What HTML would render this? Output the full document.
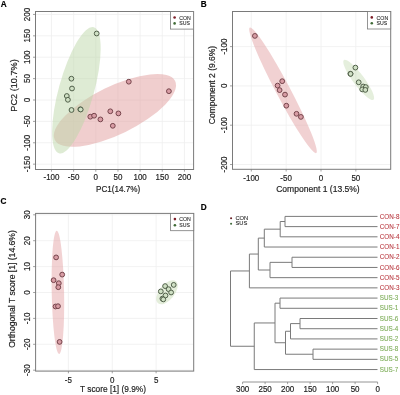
<!DOCTYPE html>
<html><head><meta charset="utf-8"><style>
html,body{margin:0;padding:0;background:#fff;width:400px;height:395px;overflow:hidden}
svg{display:block;will-change:transform;font-family:"Liberation Sans", sans-serif}
</style></head><body>
<svg width="400" height="395" viewBox="0 0 400 395">
<text x="0.8" y="6.7" font-weight="bold" font-size="8.2" fill="#000" stroke="#000" stroke-width="0.18">A</text>
<line x1="51.48" y1="11.5" x2="51.48" y2="169.5" stroke="#efefef" stroke-width="0.8"/>
<line x1="73.64" y1="11.5" x2="73.64" y2="169.5" stroke="#efefef" stroke-width="0.8"/>
<line x1="95.8" y1="11.5" x2="95.8" y2="169.5" stroke="#efefef" stroke-width="0.8"/>
<line x1="117.96" y1="11.5" x2="117.96" y2="169.5" stroke="#efefef" stroke-width="0.8"/>
<line x1="140.12" y1="11.5" x2="140.12" y2="169.5" stroke="#efefef" stroke-width="0.8"/>
<line x1="162.28" y1="11.5" x2="162.28" y2="169.5" stroke="#efefef" stroke-width="0.8"/>
<line x1="184.44" y1="11.5" x2="184.44" y2="169.5" stroke="#efefef" stroke-width="0.8"/>
<line x1="35.5" y1="14.46" x2="193.6" y2="14.46" stroke="#efefef" stroke-width="0.8"/>
<line x1="35.5" y1="35.84" x2="193.6" y2="35.84" stroke="#efefef" stroke-width="0.8"/>
<line x1="35.5" y1="57.23" x2="193.6" y2="57.23" stroke="#efefef" stroke-width="0.8"/>
<line x1="35.5" y1="78.61" x2="193.6" y2="78.61" stroke="#efefef" stroke-width="0.8"/>
<line x1="35.5" y1="100.0" x2="193.6" y2="100.0" stroke="#efefef" stroke-width="0.8"/>
<line x1="35.5" y1="121.39" x2="193.6" y2="121.39" stroke="#efefef" stroke-width="0.8"/>
<line x1="35.5" y1="142.77" x2="193.6" y2="142.77" stroke="#efefef" stroke-width="0.8"/>
<line x1="35.5" y1="164.16" x2="193.6" y2="164.16" stroke="#efefef" stroke-width="0.8"/>
<ellipse cx="114.9" cy="110.4" rx="67" ry="24" transform="rotate(-26 114.9 110.4)" fill="rgb(226,158,159)" fill-opacity="0.51"/>
<ellipse cx="76.4" cy="90.2" rx="65.4" ry="17.6" transform="rotate(-74.6 76.4 90.2)" fill="rgb(190,215,170)" fill-opacity="0.5"/>
<circle cx="90.3" cy="116.7" r="2.4" fill="#d89ca4" stroke="#74434a" stroke-width="1"/>
<circle cx="94.1" cy="115.7" r="2.4" fill="#d89ca4" stroke="#74434a" stroke-width="1"/>
<circle cx="100.4" cy="119.4" r="2.4" fill="#d89ca4" stroke="#74434a" stroke-width="1"/>
<circle cx="110.3" cy="111.3" r="2.4" fill="#d89ca4" stroke="#74434a" stroke-width="1"/>
<circle cx="118.4" cy="113.4" r="2.4" fill="#d89ca4" stroke="#74434a" stroke-width="1"/>
<circle cx="112.8" cy="125.8" r="2.4" fill="#d89ca4" stroke="#74434a" stroke-width="1"/>
<circle cx="128.8" cy="81.7" r="2.4" fill="#d89ca4" stroke="#74434a" stroke-width="1"/>
<circle cx="168.9" cy="91.2" r="2.4" fill="#d89ca4" stroke="#74434a" stroke-width="1"/>
<circle cx="96.7" cy="33.5" r="2.4" fill="#cfe0c4" stroke="#4f5e48" stroke-width="1"/>
<circle cx="71.4" cy="78.7" r="2.4" fill="#cfe0c4" stroke="#4f5e48" stroke-width="1"/>
<circle cx="72" cy="88.5" r="2.4" fill="#cfe0c4" stroke="#4f5e48" stroke-width="1"/>
<circle cx="66.8" cy="96" r="2.4" fill="#cfe0c4" stroke="#4f5e48" stroke-width="1"/>
<circle cx="67.9" cy="99.8" r="2.4" fill="#cfe0c4" stroke="#4f5e48" stroke-width="1"/>
<circle cx="71.5" cy="110" r="2.4" fill="#cfe0c4" stroke="#4f5e48" stroke-width="1"/>
<circle cx="80.3" cy="109.3" r="2.4" fill="#cfe0c4" stroke="#4f5e48" stroke-width="1"/>
<circle cx="80.7" cy="109.5" r="2.4" fill="#cfe0c4" stroke="#4f5e48" stroke-width="1"/>
<rect x="35.5" y="11.5" width="158.1" height="158.0" fill="none" stroke="#7a7a7a" stroke-width="1"/>
<line x1="51.48" y1="169.5" x2="51.48" y2="171.7" stroke="#7a7a7a" stroke-width="0.7"/>
<text transform="translate(51.48 179.7) scale(0.9 1)" font-size="8.9" text-anchor="middle" fill="#222" stroke="#222" stroke-width="0.18">-100</text>
<line x1="73.64" y1="169.5" x2="73.64" y2="171.7" stroke="#7a7a7a" stroke-width="0.7"/>
<text transform="translate(73.64 179.7) scale(0.9 1)" font-size="8.9" text-anchor="middle" fill="#222" stroke="#222" stroke-width="0.18">-50</text>
<line x1="95.8" y1="169.5" x2="95.8" y2="171.7" stroke="#7a7a7a" stroke-width="0.7"/>
<text transform="translate(95.8 179.7) scale(0.9 1)" font-size="8.9" text-anchor="middle" fill="#222" stroke="#222" stroke-width="0.18">0</text>
<line x1="117.96" y1="169.5" x2="117.96" y2="171.7" stroke="#7a7a7a" stroke-width="0.7"/>
<text transform="translate(117.96 179.7) scale(0.9 1)" font-size="8.9" text-anchor="middle" fill="#222" stroke="#222" stroke-width="0.18">50</text>
<line x1="140.12" y1="169.5" x2="140.12" y2="171.7" stroke="#7a7a7a" stroke-width="0.7"/>
<text transform="translate(140.12 179.7) scale(0.9 1)" font-size="8.9" text-anchor="middle" fill="#222" stroke="#222" stroke-width="0.18">100</text>
<line x1="162.28" y1="169.5" x2="162.28" y2="171.7" stroke="#7a7a7a" stroke-width="0.7"/>
<text transform="translate(162.28 179.7) scale(0.9 1)" font-size="8.9" text-anchor="middle" fill="#222" stroke="#222" stroke-width="0.18">150</text>
<line x1="184.44" y1="169.5" x2="184.44" y2="171.7" stroke="#7a7a7a" stroke-width="0.7"/>
<text transform="translate(184.44 179.7) scale(0.9 1)" font-size="8.9" text-anchor="middle" fill="#222" stroke="#222" stroke-width="0.18">200</text>
<line x1="33.0" y1="14.46" x2="35.5" y2="14.46" stroke="#7a7a7a" stroke-width="0.7"/>
<text transform="translate(30 14.46) rotate(-90) scale(0.9 1)" font-size="8.9" text-anchor="middle" fill="#222" stroke="#222" stroke-width="0.18">200</text>
<line x1="33.0" y1="35.84" x2="35.5" y2="35.84" stroke="#7a7a7a" stroke-width="0.7"/>
<text transform="translate(30 35.84) rotate(-90) scale(0.9 1)" font-size="8.9" text-anchor="middle" fill="#222" stroke="#222" stroke-width="0.18">150</text>
<line x1="33.0" y1="57.23" x2="35.5" y2="57.23" stroke="#7a7a7a" stroke-width="0.7"/>
<text transform="translate(30 57.23) rotate(-90) scale(0.9 1)" font-size="8.9" text-anchor="middle" fill="#222" stroke="#222" stroke-width="0.18">100</text>
<line x1="33.0" y1="78.61" x2="35.5" y2="78.61" stroke="#7a7a7a" stroke-width="0.7"/>
<text transform="translate(30 78.61) rotate(-90) scale(0.9 1)" font-size="8.9" text-anchor="middle" fill="#222" stroke="#222" stroke-width="0.18">50</text>
<line x1="33.0" y1="100.0" x2="35.5" y2="100.0" stroke="#7a7a7a" stroke-width="0.7"/>
<text transform="translate(30 100.0) rotate(-90) scale(0.9 1)" font-size="8.9" text-anchor="middle" fill="#222" stroke="#222" stroke-width="0.18">0</text>
<line x1="33.0" y1="121.39" x2="35.5" y2="121.39" stroke="#7a7a7a" stroke-width="0.7"/>
<text transform="translate(30 121.39) rotate(-90) scale(0.9 1)" font-size="8.9" text-anchor="middle" fill="#222" stroke="#222" stroke-width="0.18">-50</text>
<line x1="33.0" y1="142.77" x2="35.5" y2="142.77" stroke="#7a7a7a" stroke-width="0.7"/>
<text transform="translate(30 142.77) rotate(-90) scale(0.9 1)" font-size="8.9" text-anchor="middle" fill="#222" stroke="#222" stroke-width="0.18">-100</text>
<line x1="33.0" y1="164.16" x2="35.5" y2="164.16" stroke="#7a7a7a" stroke-width="0.7"/>
<text transform="translate(30 164.16) rotate(-90) scale(0.9 1)" font-size="8.9" text-anchor="middle" fill="#222" stroke="#222" stroke-width="0.18">-150</text>
<text x="96" y="192" font-size="8.5" fill="#222" stroke="#222" stroke-width="0.18" textLength="44.3" lengthAdjust="spacingAndGlyphs">PC1(14.7%)</text>
<text x="16.5" y="85.5" font-size="8.5" text-anchor="middle" fill="#222" stroke="#222" stroke-width="0.18" transform="rotate(-90 16.5 85.5)" textLength="52.4" lengthAdjust="spacingAndGlyphs">PC2 (10.7%)</text>
<rect x="170.4" y="11.6" width="23.19999999999999" height="17.5" fill="#fff" stroke="#7a7a7a" stroke-width="0.8"/>
<circle cx="174.6" cy="17.5" r="1.3" fill="#7d1e28"/>
<circle cx="174.6" cy="23.4" r="1.3" fill="#3f6b36"/>
<text x="179.3" y="19.6" font-size="5.2" fill="#222" stroke="#222" stroke-width="0.08">CON</text>
<text x="179.3" y="25.2" font-size="5.2" fill="#222" stroke="#222" stroke-width="0.08">SUS</text>
<text x="200.8" y="6.7" font-weight="bold" font-size="8.2" fill="#000" stroke="#000" stroke-width="0.18">B</text>
<line x1="251.3" y1="11.5" x2="251.3" y2="169.3" stroke="#efefef" stroke-width="0.8"/>
<line x1="286.15" y1="11.5" x2="286.15" y2="169.3" stroke="#efefef" stroke-width="0.8"/>
<line x1="321.0" y1="11.5" x2="321.0" y2="169.3" stroke="#efefef" stroke-width="0.8"/>
<line x1="355.85" y1="11.5" x2="355.85" y2="169.3" stroke="#efefef" stroke-width="0.8"/>
<line x1="232.5" y1="46.6" x2="390.7" y2="46.6" stroke="#efefef" stroke-width="0.8"/>
<line x1="232.5" y1="85.9" x2="390.7" y2="85.9" stroke="#efefef" stroke-width="0.8"/>
<line x1="232.5" y1="125.2" x2="390.7" y2="125.2" stroke="#efefef" stroke-width="0.8"/>
<line x1="232.5" y1="164.5" x2="390.7" y2="164.5" stroke="#efefef" stroke-width="0.8"/>
<ellipse cx="283" cy="90.3" rx="71" ry="7.1" transform="rotate(62.1 283 90.3)" fill="rgb(226,158,159)" fill-opacity="0.47"/>
<ellipse cx="358.7" cy="79.9" rx="24.7" ry="5.6" transform="rotate(53.3 358.7 79.9)" fill="rgb(190,215,170)" fill-opacity="0.4"/>
<circle cx="254.9" cy="35.9" r="2.4" fill="#d89ca4" stroke="#74434a" stroke-width="1"/>
<circle cx="282.2" cy="81.2" r="2.4" fill="#d89ca4" stroke="#74434a" stroke-width="1"/>
<circle cx="277.6" cy="85.6" r="2.4" fill="#d89ca4" stroke="#74434a" stroke-width="1"/>
<circle cx="279.6" cy="90.1" r="2.4" fill="#d89ca4" stroke="#74434a" stroke-width="1"/>
<circle cx="285" cy="94.6" r="2.4" fill="#d89ca4" stroke="#74434a" stroke-width="1"/>
<circle cx="286.3" cy="105.7" r="2.4" fill="#d89ca4" stroke="#74434a" stroke-width="1"/>
<circle cx="296.5" cy="113.8" r="2.4" fill="#d89ca4" stroke="#74434a" stroke-width="1"/>
<circle cx="300.9" cy="116.9" r="2.4" fill="#d89ca4" stroke="#74434a" stroke-width="1"/>
<circle cx="355.4" cy="67.6" r="2.4" fill="#cfe0c4" stroke="#4f5e48" stroke-width="1"/>
<circle cx="350.4" cy="73.7" r="2.4" fill="#cfe0c4" stroke="#4f5e48" stroke-width="1"/>
<circle cx="350.6" cy="73.9" r="2.4" fill="#cfe0c4" stroke="#4f5e48" stroke-width="1"/>
<circle cx="358.7" cy="82.3" r="2.4" fill="#cfe0c4" stroke="#4f5e48" stroke-width="1"/>
<circle cx="363.2" cy="86.5" r="2.4" fill="#cfe0c4" stroke="#4f5e48" stroke-width="1"/>
<circle cx="365.8" cy="87.1" r="2.4" fill="#cfe0c4" stroke="#4f5e48" stroke-width="1"/>
<circle cx="362.2" cy="89.4" r="2.4" fill="#cfe0c4" stroke="#4f5e48" stroke-width="1"/>
<circle cx="365.3" cy="89.9" r="2.4" fill="#cfe0c4" stroke="#4f5e48" stroke-width="1"/>
<rect x="232.5" y="11.5" width="158.2" height="157.8" fill="none" stroke="#7a7a7a" stroke-width="1"/>
<line x1="251.3" y1="169.3" x2="251.3" y2="171.5" stroke="#7a7a7a" stroke-width="0.7"/>
<text transform="translate(251.3 180.5) scale(0.9 1)" font-size="8.9" text-anchor="middle" fill="#222" stroke="#222" stroke-width="0.18">-100</text>
<line x1="286.15" y1="169.3" x2="286.15" y2="171.5" stroke="#7a7a7a" stroke-width="0.7"/>
<text transform="translate(286.15 180.5) scale(0.9 1)" font-size="8.9" text-anchor="middle" fill="#222" stroke="#222" stroke-width="0.18">-50</text>
<line x1="321.0" y1="169.3" x2="321.0" y2="171.5" stroke="#7a7a7a" stroke-width="0.7"/>
<text transform="translate(321.0 180.5) scale(0.9 1)" font-size="8.9" text-anchor="middle" fill="#222" stroke="#222" stroke-width="0.18">0</text>
<line x1="355.85" y1="169.3" x2="355.85" y2="171.5" stroke="#7a7a7a" stroke-width="0.7"/>
<text transform="translate(355.85 180.5) scale(0.9 1)" font-size="8.9" text-anchor="middle" fill="#222" stroke="#222" stroke-width="0.18">50</text>
<line x1="230.0" y1="46.6" x2="232.5" y2="46.6" stroke="#7a7a7a" stroke-width="0.7"/>
<text transform="translate(227.4 46.6) rotate(-90) scale(0.9 1)" font-size="8.9" text-anchor="middle" fill="#222" stroke="#222" stroke-width="0.18">-100</text>
<line x1="230.0" y1="85.9" x2="232.5" y2="85.9" stroke="#7a7a7a" stroke-width="0.7"/>
<text transform="translate(227.4 85.9) rotate(-90) scale(0.9 1)" font-size="8.9" text-anchor="middle" fill="#222" stroke="#222" stroke-width="0.18">0</text>
<line x1="230.0" y1="125.2" x2="232.5" y2="125.2" stroke="#7a7a7a" stroke-width="0.7"/>
<text transform="translate(227.4 125.2) rotate(-90) scale(0.9 1)" font-size="8.9" text-anchor="middle" fill="#222" stroke="#222" stroke-width="0.18">-100</text>
<line x1="230.0" y1="164.5" x2="232.5" y2="164.5" stroke="#7a7a7a" stroke-width="0.7"/>
<text transform="translate(227.4 164.5) rotate(-90) scale(0.9 1)" font-size="8.9" text-anchor="middle" fill="#222" stroke="#222" stroke-width="0.18">-200</text>
<text x="276.2" y="192.4" font-size="8.5" fill="#222" stroke="#222" stroke-width="0.18" textLength="83.5" lengthAdjust="spacingAndGlyphs">Component 1 (13.5%)</text>
<text x="215.2" y="85" font-size="8.5" text-anchor="middle" fill="#222" stroke="#222" stroke-width="0.18" transform="rotate(-90 215.2 85)" textLength="78.4" lengthAdjust="spacingAndGlyphs">Component 2 (9.6%)</text>
<rect x="367.4" y="11.5" width="23.30000000000001" height="17.5" fill="#fff" stroke="#7a7a7a" stroke-width="0.8"/>
<circle cx="371.8" cy="17.4" r="1.3" fill="#7d1e28"/>
<circle cx="371.8" cy="23.3" r="1.3" fill="#3f6b36"/>
<text x="376.6" y="19.5" font-size="5.2" fill="#222" stroke="#222" stroke-width="0.08">CON</text>
<text x="376.6" y="25.1" font-size="5.2" fill="#222" stroke="#222" stroke-width="0.08">SUS</text>
<text x="0.5" y="204.3" font-weight="bold" font-size="8.2" fill="#000" stroke="#000" stroke-width="0.18">C</text>
<line x1="68.4" y1="213.4" x2="68.4" y2="371.1" stroke="#efefef" stroke-width="0.8"/>
<line x1="112.25" y1="213.4" x2="112.25" y2="371.1" stroke="#efefef" stroke-width="0.8"/>
<line x1="156.1" y1="213.4" x2="156.1" y2="371.1" stroke="#efefef" stroke-width="0.8"/>
<line x1="35.6" y1="214.8" x2="193.7" y2="214.8" stroke="#efefef" stroke-width="0.8"/>
<line x1="35.6" y1="240.7" x2="193.7" y2="240.7" stroke="#efefef" stroke-width="0.8"/>
<line x1="35.6" y1="266.6" x2="193.7" y2="266.6" stroke="#efefef" stroke-width="0.8"/>
<line x1="35.6" y1="292.5" x2="193.7" y2="292.5" stroke="#efefef" stroke-width="0.8"/>
<line x1="35.6" y1="318.4" x2="193.7" y2="318.4" stroke="#efefef" stroke-width="0.8"/>
<line x1="35.6" y1="344.3" x2="193.7" y2="344.3" stroke="#efefef" stroke-width="0.8"/>
<line x1="35.6" y1="370.2" x2="193.7" y2="370.2" stroke="#efefef" stroke-width="0.8"/>
<ellipse cx="57.9" cy="292.3" rx="61.6" ry="6.2" transform="rotate(88.9 57.9 292.3)" fill="rgb(226,158,159)" fill-opacity="0.46"/>
<ellipse cx="167" cy="292.2" rx="14.2" ry="7.6" transform="rotate(-50.8 167 292.2)" fill="rgb(190,215,170)" fill-opacity="0.42"/>
<circle cx="56.1" cy="257.4" r="2.4" fill="#d89ca4" stroke="#74434a" stroke-width="1"/>
<circle cx="62.2" cy="274.6" r="2.4" fill="#d89ca4" stroke="#74434a" stroke-width="1"/>
<circle cx="53.6" cy="280.2" r="2.4" fill="#d89ca4" stroke="#74434a" stroke-width="1"/>
<circle cx="58.8" cy="283.2" r="2.4" fill="#d89ca4" stroke="#74434a" stroke-width="1"/>
<circle cx="58.3" cy="287.2" r="2.4" fill="#d89ca4" stroke="#74434a" stroke-width="1"/>
<circle cx="55.5" cy="306.5" r="2.4" fill="#d89ca4" stroke="#74434a" stroke-width="1"/>
<circle cx="58" cy="306.2" r="2.4" fill="#d89ca4" stroke="#74434a" stroke-width="1"/>
<circle cx="59.6" cy="341.9" r="2.4" fill="#d89ca4" stroke="#74434a" stroke-width="1"/>
<circle cx="173.7" cy="284.9" r="2.4" fill="#cfe0c4" stroke="#4f5e48" stroke-width="1"/>
<circle cx="165.1" cy="286.1" r="2.4" fill="#cfe0c4" stroke="#4f5e48" stroke-width="1"/>
<circle cx="168.6" cy="289.2" r="2.4" fill="#cfe0c4" stroke="#4f5e48" stroke-width="1"/>
<circle cx="160.8" cy="291.4" r="2.4" fill="#cfe0c4" stroke="#4f5e48" stroke-width="1"/>
<circle cx="171.1" cy="292.5" r="2.4" fill="#cfe0c4" stroke="#4f5e48" stroke-width="1"/>
<circle cx="165.5" cy="295.5" r="2.4" fill="#cfe0c4" stroke="#4f5e48" stroke-width="1"/>
<circle cx="162.4" cy="298.6" r="2.4" fill="#cfe0c4" stroke="#4f5e48" stroke-width="1"/>
<circle cx="163.3" cy="299.4" r="2.4" fill="#cfe0c4" stroke="#4f5e48" stroke-width="1"/>
<rect x="35.6" y="213.4" width="158.1" height="157.70000000000002" fill="none" stroke="#7a7a7a" stroke-width="1"/>
<line x1="68.4" y1="371.1" x2="68.4" y2="373.3" stroke="#7a7a7a" stroke-width="0.7"/>
<text transform="translate(68.4 383) scale(0.9 1)" font-size="8.9" text-anchor="middle" fill="#222" stroke="#222" stroke-width="0.18">-5</text>
<line x1="112.25" y1="371.1" x2="112.25" y2="373.3" stroke="#7a7a7a" stroke-width="0.7"/>
<text transform="translate(112.25 383) scale(0.9 1)" font-size="8.9" text-anchor="middle" fill="#222" stroke="#222" stroke-width="0.18">0</text>
<line x1="156.1" y1="371.1" x2="156.1" y2="373.3" stroke="#7a7a7a" stroke-width="0.7"/>
<text transform="translate(156.1 383) scale(0.9 1)" font-size="8.9" text-anchor="middle" fill="#222" stroke="#222" stroke-width="0.18">5</text>
<line x1="33.1" y1="214.8" x2="35.6" y2="214.8" stroke="#7a7a7a" stroke-width="0.7"/>
<text transform="translate(30 214.8) rotate(-90) scale(0.9 1)" font-size="8.9" text-anchor="middle" fill="#222" stroke="#222" stroke-width="0.18">30</text>
<line x1="33.1" y1="240.7" x2="35.6" y2="240.7" stroke="#7a7a7a" stroke-width="0.7"/>
<text transform="translate(30 240.7) rotate(-90) scale(0.9 1)" font-size="8.9" text-anchor="middle" fill="#222" stroke="#222" stroke-width="0.18">20</text>
<line x1="33.1" y1="266.6" x2="35.6" y2="266.6" stroke="#7a7a7a" stroke-width="0.7"/>
<text transform="translate(30 266.6) rotate(-90) scale(0.9 1)" font-size="8.9" text-anchor="middle" fill="#222" stroke="#222" stroke-width="0.18">10</text>
<line x1="33.1" y1="292.5" x2="35.6" y2="292.5" stroke="#7a7a7a" stroke-width="0.7"/>
<text transform="translate(30 292.5) rotate(-90) scale(0.9 1)" font-size="8.9" text-anchor="middle" fill="#222" stroke="#222" stroke-width="0.18">0</text>
<line x1="33.1" y1="318.4" x2="35.6" y2="318.4" stroke="#7a7a7a" stroke-width="0.7"/>
<text transform="translate(30 318.4) rotate(-90) scale(0.9 1)" font-size="8.9" text-anchor="middle" fill="#222" stroke="#222" stroke-width="0.18">-10</text>
<line x1="33.1" y1="344.3" x2="35.6" y2="344.3" stroke="#7a7a7a" stroke-width="0.7"/>
<text transform="translate(30 344.3) rotate(-90) scale(0.9 1)" font-size="8.9" text-anchor="middle" fill="#222" stroke="#222" stroke-width="0.18">-20</text>
<line x1="33.1" y1="370.2" x2="35.6" y2="370.2" stroke="#7a7a7a" stroke-width="0.7"/>
<text transform="translate(30 370.2) rotate(-90) scale(0.9 1)" font-size="8.9" text-anchor="middle" fill="#222" stroke="#222" stroke-width="0.18">-30</text>
<text x="80" y="392.3" font-size="8.5" fill="#222" stroke="#222" stroke-width="0.18" textLength="66" lengthAdjust="spacingAndGlyphs">T score [1] (9.9%)</text>
<text x="15.2" y="289" font-size="8.5" text-anchor="middle" fill="#222" stroke="#222" stroke-width="0.18" transform="rotate(-90 15.2 289)" textLength="117.7" lengthAdjust="spacingAndGlyphs">Orthogonal T score [1] (14.6%)</text>
<rect x="170.6" y="213.4" width="23.099999999999994" height="17.299999999999983" fill="#fff" stroke="#7a7a7a" stroke-width="0.8"/>
<circle cx="174.9" cy="219.1" r="1.3" fill="#7d1e28"/>
<circle cx="174.9" cy="225.3" r="1.3" fill="#3f6b36"/>
<text x="179.2" y="221.2" font-size="5.2" fill="#222" stroke="#222" stroke-width="0.08">CON</text>
<text x="179.2" y="227.1" font-size="5.2" fill="#222" stroke="#222" stroke-width="0.08">SUS</text>
<text x="200.8" y="209.7" font-weight="bold" font-size="8.2" fill="#000" stroke="#000" stroke-width="0.18">D</text>
<circle cx="231.1" cy="218.2" r="1.05" fill="#6a1f25"/>
<circle cx="231.1" cy="223.7" r="1.05" fill="#3f6a3a"/>
<text x="235.4" y="219.9" font-size="5.8" fill="#222" stroke="#222" stroke-width="0.08">CON</text>
<text x="235.4" y="225.1" font-size="5.8" fill="#222" stroke="#222" stroke-width="0.08">SUS</text>
<path d="M285,216.4V226.61 M285,216.4H377.5 M285,226.61H377.5 M280.2,221.505V236.82 M280.2,221.505H285 M280.2,236.82H377.5 M264.3,229.1625V247.03 M264.3,229.1625H280.2 M264.3,247.03H377.5 M292,257.24V267.45 M292,257.24H377.5 M292,267.45H377.5 M270,262.345V277.66 M270,262.345H292 M270,277.66H377.5 M258.3,238.09625V270.00250000000005 M258.3,238.09625H264.3 M258.3,270.00250000000005H270 M249.4,254.04937500000003V287.87 M249.4,254.04937500000003H258.3 M249.4,287.87H377.5 M280,298.08V308.29 M280,298.08H377.5 M280,308.29H377.5 M300,318.5V328.71 M300,318.5H377.5 M300,328.71H377.5 M290.5,323.605V338.92 M290.5,323.605H300 M290.5,338.92H377.5 M313,349.13V359.34 M313,349.13H377.5 M313,359.34H377.5 M285.5,331.26250000000005V354.235 M285.5,331.26250000000005H290.5 M285.5,354.235H313 M275,303.185V342.74875000000003 M275,303.185H280 M275,342.74875000000003H285.5 M254.25,322.966875V369.55 M254.25,322.966875H275 M254.25,369.55H377.5 M230.5,270.95968750000003V346.2584375 M230.5,270.95968750000003H249.4 M230.5,346.2584375H254.25" fill="none" stroke="#7a7a7a" stroke-width="1"/>
<text x="379.8" y="218.5" font-size="6.3" fill="#b8383f" stroke="#b8383f" stroke-width="0.08">CON-8</text>
<text x="379.8" y="228.71" font-size="6.3" fill="#b8383f" stroke="#b8383f" stroke-width="0.08">CON-7</text>
<text x="379.8" y="238.92" font-size="6.3" fill="#b8383f" stroke="#b8383f" stroke-width="0.08">CON-4</text>
<text x="379.8" y="249.13" font-size="6.3" fill="#b8383f" stroke="#b8383f" stroke-width="0.08">CON-1</text>
<text x="379.8" y="259.34" font-size="6.3" fill="#b8383f" stroke="#b8383f" stroke-width="0.08">CON-2</text>
<text x="379.8" y="269.55" font-size="6.3" fill="#b8383f" stroke="#b8383f" stroke-width="0.08">CON-6</text>
<text x="379.8" y="279.76" font-size="6.3" fill="#b8383f" stroke="#b8383f" stroke-width="0.08">CON-5</text>
<text x="379.8" y="289.97" font-size="6.3" fill="#b8383f" stroke="#b8383f" stroke-width="0.08">CON-3</text>
<text x="379.8" y="300.18" font-size="6.3" fill="#7aab55" stroke="#7aab55" stroke-width="0.08">SUS-3</text>
<text x="379.8" y="310.39" font-size="6.3" fill="#7aab55" stroke="#7aab55" stroke-width="0.08">SUS-1</text>
<text x="379.8" y="320.6" font-size="6.3" fill="#7aab55" stroke="#7aab55" stroke-width="0.08">SUS-6</text>
<text x="379.8" y="330.81" font-size="6.3" fill="#7aab55" stroke="#7aab55" stroke-width="0.08">SUS-4</text>
<text x="379.8" y="341.02" font-size="6.3" fill="#7aab55" stroke="#7aab55" stroke-width="0.08">SUS-2</text>
<text x="379.8" y="351.23" font-size="6.3" fill="#7aab55" stroke="#7aab55" stroke-width="0.08">SUS-8</text>
<text x="379.8" y="361.44" font-size="6.3" fill="#7aab55" stroke="#7aab55" stroke-width="0.08">SUS-5</text>
<text x="379.8" y="371.65" font-size="6.3" fill="#7aab55" stroke="#7aab55" stroke-width="0.08">SUS-7</text>
<path d="M242.6,382H377.6" stroke="#7a7a7a" stroke-width="0.8"/>
<line x1="242.6" y1="382" x2="242.6" y2="384.2" stroke="#7a7a7a" stroke-width="0.7"/>
<text transform="translate(242.6 391.6) scale(0.9 1)" font-size="8.9" text-anchor="middle" fill="#222" stroke="#222" stroke-width="0.18">300</text>
<line x1="265.1" y1="382" x2="265.1" y2="384.2" stroke="#7a7a7a" stroke-width="0.7"/>
<text transform="translate(265.1 391.6) scale(0.9 1)" font-size="8.9" text-anchor="middle" fill="#222" stroke="#222" stroke-width="0.18">250</text>
<line x1="287.6" y1="382" x2="287.6" y2="384.2" stroke="#7a7a7a" stroke-width="0.7"/>
<text transform="translate(287.6 391.6) scale(0.9 1)" font-size="8.9" text-anchor="middle" fill="#222" stroke="#222" stroke-width="0.18">200</text>
<line x1="310.1" y1="382" x2="310.1" y2="384.2" stroke="#7a7a7a" stroke-width="0.7"/>
<text transform="translate(310.1 391.6) scale(0.9 1)" font-size="8.9" text-anchor="middle" fill="#222" stroke="#222" stroke-width="0.18">150</text>
<line x1="332.6" y1="382" x2="332.6" y2="384.2" stroke="#7a7a7a" stroke-width="0.7"/>
<text transform="translate(332.6 391.6) scale(0.9 1)" font-size="8.9" text-anchor="middle" fill="#222" stroke="#222" stroke-width="0.18">100</text>
<line x1="355.1" y1="382" x2="355.1" y2="384.2" stroke="#7a7a7a" stroke-width="0.7"/>
<text transform="translate(355.1 391.6) scale(0.9 1)" font-size="8.9" text-anchor="middle" fill="#222" stroke="#222" stroke-width="0.18">50</text>
<line x1="377.6" y1="382" x2="377.6" y2="384.2" stroke="#7a7a7a" stroke-width="0.7"/>
<text transform="translate(377.6 391.6) scale(0.9 1)" font-size="8.9" text-anchor="middle" fill="#222" stroke="#222" stroke-width="0.18">0</text>
</svg>
</body></html>
